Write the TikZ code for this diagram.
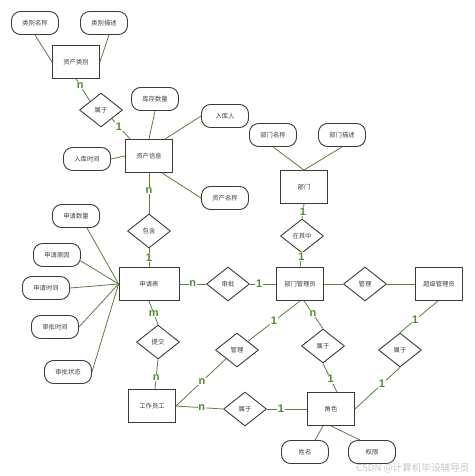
\documentclass[tikz,border=0pt]{standalone}
\usepackage{fontspec}
\setmainfont{Liberation Sans}
\newfontfamily\cjk{Noto Sans CJK SC}
\usetikzlibrary{shapes.geometric,calc}
\definecolor{edgegreen}{HTML}{5E7D3E}
\definecolor{lblgreen}{HTML}{4E8F2A}
\definecolor{boxline}{HTML}{3A3A3A}
\definecolor{txt}{HTML}{3C3C3C}
\tikzset{
 every node/.style={font=\cjk\fontsize{6.3}{7}\selectfont, text=txt},
 entity/.style={draw=boxline, line width=0.9pt, rectangle, minimum width=47pt, minimum height=33pt, inner sep=0pt},
 attr/.style={draw=boxline, line width=0.9pt, rectangle, rounded corners=9pt, minimum width=47pt, minimum height=23pt, inner sep=0pt},
 rel/.style={draw=boxline, line width=0.9pt, diamond, minimum width=43pt, minimum height=34pt, inner sep=0pt},
 conn/.style={draw=edgegreen, line width=0.8pt},
 card/.style={font=\bfseries\fontsize{11}{11}\selectfont, text=lblgreen, fill=white, inner sep=0.6pt},
 wm/.style={font=\cjk\fontsize{9.6}{10}\selectfont, text=black!22},
}
\begin{document}
\begin{tikzpicture}[x=1pt,y=-1pt]
\useasboundingbox (0,0) rectangle (474,476);
% entities
\node[entity] (leibie) at (76,62) {资产类别};
\node[entity] (zcxx) at (149,156) {资产信息};
\node[entity, minimum width=60pt] (sqb) at (149,284) {申请表};
\node[entity] (bm) at (304,187) {部门};
\node[entity] (bmgly) at (300,284) {部门管理员};
\node[entity] (cjgly) at (439,284) {超级管理员};
\node[entity] (ygong) at (152,406) {工作员工};
\node[entity] (js) at (331,409) {角色};
% attributes
\node[attr] (lbmc) at (35,23) {类别名称};
\node[attr] (lbms) at (104,23) {类别描述};
\node[attr] (kcsl) at (155,99) {库存数量};
\node[attr] (rkr) at (225,116) {入库人};
\node[attr] (rksj) at (87,159) {入库时间};
\node[attr] (zcmc) at (225,198) {资产名称};
\node[attr] (bmmc) at (273,135) {部门名称};
\node[attr] (bmms) at (342,135) {部门描述};
\node[attr] (sqsl) at (76,216) {申请数量};
\node[attr] (sqyy) at (57,255) {申请原因};
\node[attr] (sqsj) at (46,288) {申请时间};
\node[attr] (spsj) at (55,327) {审批时间};
\node[attr] (spzt) at (68,372) {审批状态};
\node[attr] (xm) at (305,452) {姓名};
\node[attr] (qx) at (372,452) {权限};
% relations
\node[rel] (r1) at (101,110) {属于};
\node[rel] (baohan) at (149,231) {包含};
\node[rel] (shenpi) at (228,284) {审批};
\node[rel] (zqz) at (302,236) {在其中};
\node[rel] (gl1) at (365,284) {管理};
\node[rel] (gl2) at (237,350) {管理};
\node[rel] (sy2) at (323,346) {属于};
\node[rel] (sy3) at (400,350) {属于};
\node[rel] (sy4) at (245,409) {属于};
\node[rel] (tijiao) at (158,342) {提交};
% attribute links
\draw[conn] (lbmc.south) -- (leibie.west);
\draw[conn] ([xshift=5pt]lbms.south) -- (leibie.east);
\draw[conn] (kcsl.south) -- (zcxx.north);
\draw[conn] (rkr.west) -- ([xshift=16pt]zcxx.north);
\draw[conn] (rksj.east) -- (zcxx.west);
\draw[conn] ([xshift=13pt]zcxx.south) -- (zcmc.west);
\draw[conn] (bmmc.south) -- (bm.north);
\draw[conn] (bmms.south) -- (bm.north);
\draw[conn] ([xshift=11pt]sqsl.south) -- (sqb.west);
\draw[conn] ([yshift=-6pt]sqyy.east) -- (sqb.west);
\draw[conn] (sqsj.east) -- (sqb.west);
\draw[conn] (spsj.east) -- (sqb.west);
\draw[conn] (spzt.east) -- (sqb.west);
\draw[conn] ([xshift=-8pt]js.south) -- ([xshift=10pt]xm.north);
\draw[conn] (js.south) -- ([xshift=-12pt]qx.north);
% relationship links
\draw[conn] (leibie.south) -- node[card, pos=0.3] {n} (r1.north west);
\draw[conn] (r1.south east) -- node[card, pos=0.38] {1} ([xshift=5pt]zcxx.north west);
\draw[conn] (zcxx.south) -- node[card, pos=0.43] {n} (baohan.north);
\draw[conn] (baohan.south) -- node[card, pos=0.5] {1} (sqb.north);
\draw[conn] (sqb.east) -- node[card, pos=0.5] {n} (shenpi.west);
\draw[conn] (shenpi.east) -- node[card, pos=0.35] {1} (bmgly.west);
\draw[conn] (bmgly.east) -- (gl1.west);
\draw[conn] (gl1.east) -- (cjgly.west);
\draw[conn] (bm.south) -- node[card, pos=0.5] {1} (zqz.north);
\draw[conn] (zqz.south) -- node[card, pos=0.25] {1} (bmgly.north);
\draw[conn] (bmgly.south) -- node[card, pos=0.5] {1} (gl2.north east);
\draw[conn] (gl2.south west) -- node[card, pos=0.48] {n} (ygong.east);
\draw[conn] ([xshift=4pt]bmgly.south) -- node[card, pos=0.47] {n} (sy2.north);
\draw[conn] (sy2.south) -- node[card, pos=0.55] {1} ([xshift=6pt]js.north);
\draw[conn] ([xshift=-1pt]cjgly.south) -- node[card, pos=0.6] {1} (sy3.north);
\draw[conn] (sy3.south) -- node[card, pos=0.4] {1} (js.east);
\draw[conn] (sqb.south) -- node[card, pos=0.54] {m} (tijiao.north);
\draw[conn] (tijiao.south) -- node[card, pos=0.6] {n} ([xshift=3pt]ygong.north);
\draw[conn] (ygong.east) -- node[card, pos=0.55] {n} (sy4.west);
\draw[conn] (sy4.east) -- node[card, pos=0.35] {1} (js.west);
% watermark
\node[wm, anchor=east] (wmark) at (473,468) {CSDN @计算机毕设辅导员};
\end{tikzpicture}
\end{document}
